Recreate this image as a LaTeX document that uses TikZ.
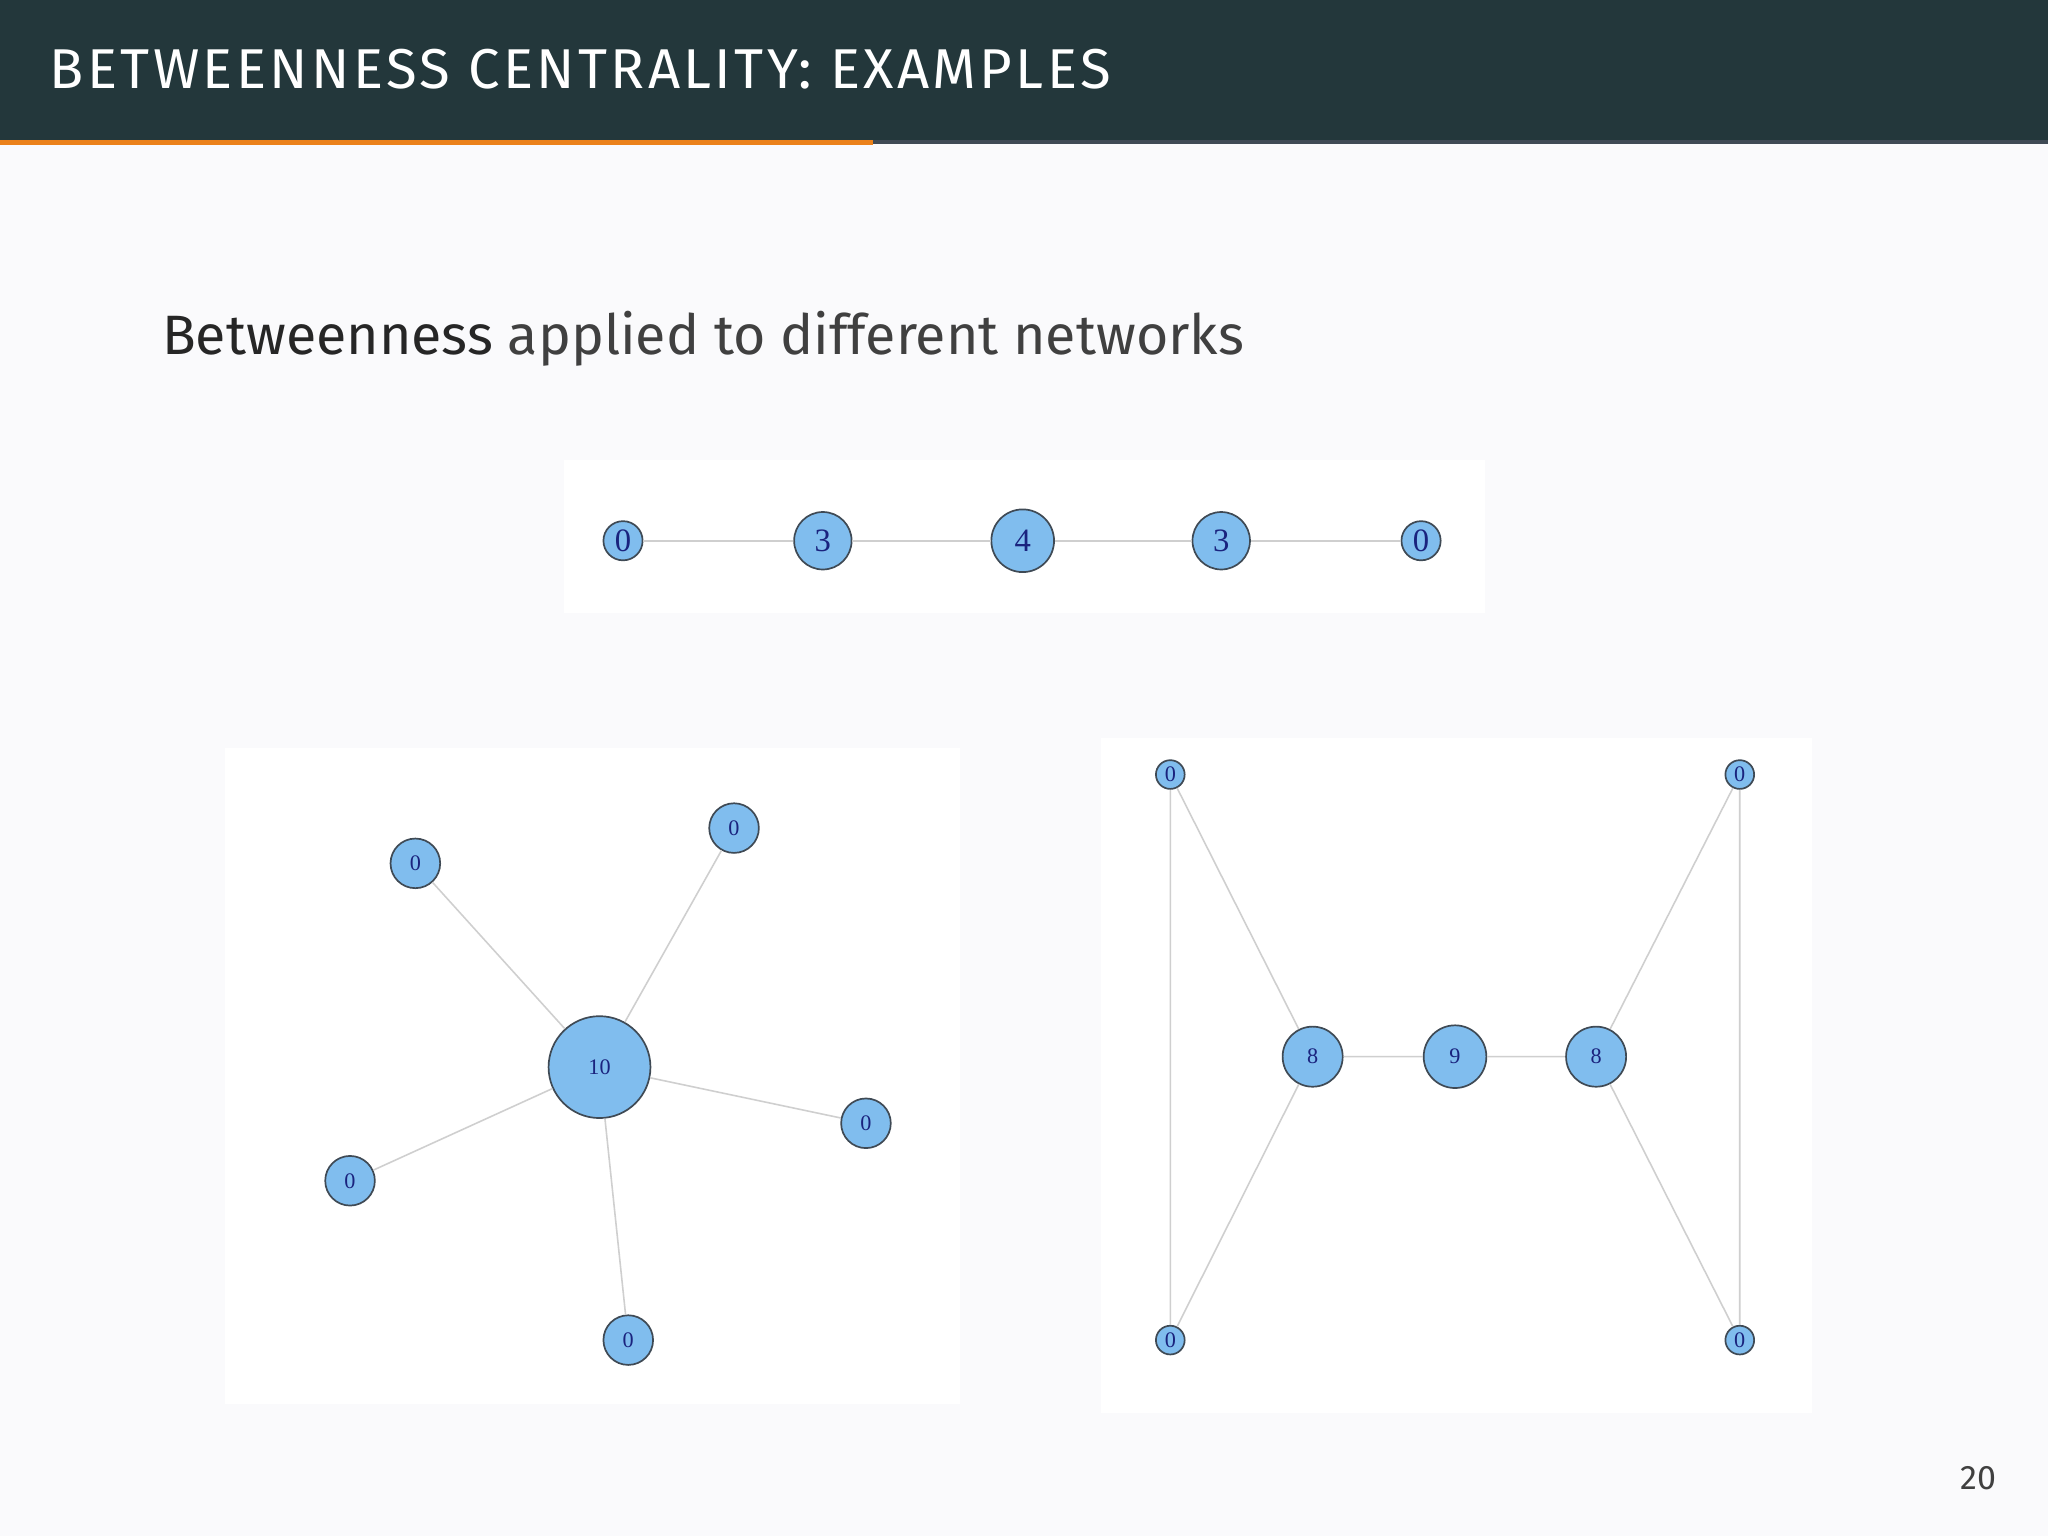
\documentclass[tikz,border=0pt]{standalone}
\usepackage{fontspec}
\setmainfont{Fira Sans}
\newfontfamily\nodefont{Liberation Serif}
\newfontfamily\titlefont[LetterSpace=6]{Fira Sans}
\definecolor{bar}{HTML}{23373B}
\definecolor{orng}{HTML}{EB811B}
\definecolor{bg}{HTML}{FAFAFC}
\definecolor{nfill}{HTML}{80BDEE}
\definecolor{nline}{HTML}{3F4A55}
\definecolor{nlab}{HTML}{1A237E}
\definecolor{edge}{HTML}{CFCFCF}
\tikzset{
 gnode/.style={circle,fill=nfill,draw=nline,line width=1.3pt,inner sep=0pt,minimum size=#1,text=nlab},
 gedge/.style={draw=edge,line width=1.2pt},
 panel/.style={fill=white,draw=none}
}
\begin{document}
\begin{tikzpicture}[x=1pt,y=-1pt]
\fill[bg] (0,0) rectangle (1568,1176);
\useasboundingbox (0,0) rectangle (1568,1176);
\fill[bar] (0,0) rectangle (1568,107);
\fill[orng] (0,107) rectangle (668,111);
\fill[nline] (668,107) rectangle (1568,110);
\node[anchor=west,text=white,inner sep=0pt,font=\titlefont\fontsize{43}{50}\selectfont] (title) at (38,53) {BETWEENNESS CENTRALITY: EXAMPLES};
\node[anchor=west,inner sep=0pt,font=\fontsize{42.5}{50}\selectfont,text=black!85] (sub) at (124,259) {Betweenness {\color{black!75}applied to different networks}};
\node[font=\fontsize{26}{30}\selectfont,text=black!75] (pg) at (1515,1132) {20};
\fill[panel] (432,352) rectangle (1137,469);
\fill[panel] (172,573) rectangle (735,1075);
\fill[panel] (843,565) rectangle (1387,1082);
\node[gnode=30pt,font=\nodefont\fontsize{25}{28}\selectfont] (p1) at (477,414) {0};
\node[gnode=44pt,font=\nodefont\fontsize{25}{28}\selectfont] (p2) at (630,414) {3};
\node[gnode=48pt,font=\nodefont\fontsize{25}{28}\selectfont] (p3) at (783,414) {4};
\node[gnode=44pt,font=\nodefont\fontsize{25}{28}\selectfont] (p4) at (935,414) {3};
\node[gnode=30pt,font=\nodefont\fontsize{25}{28}\selectfont] (p5) at (1088,414) {0};
\draw[gedge] (p1)--(p2) (p2)--(p3) (p3)--(p4) (p4)--(p5);
\node[gnode=78pt,font=\nodefont\fontsize{17}{20}\selectfont] (c) at (459,817) {10};
\node[gnode=38pt,font=\nodefont\fontsize{17}{20}\selectfont] (s1) at (318,661) {0};
\node[gnode=38pt,font=\nodefont\fontsize{17}{20}\selectfont] (s2) at (562,634) {0};
\node[gnode=38pt,font=\nodefont\fontsize{17}{20}\selectfont] (s3) at (663,860) {0};
\node[gnode=38pt,font=\nodefont\fontsize{17}{20}\selectfont] (s4) at (268,904) {0};
\node[gnode=38pt,font=\nodefont\fontsize{17}{20}\selectfont] (s5) at (481,1026) {0};
\draw[gedge] (c)--(s1) (c)--(s2) (c)--(s3) (c)--(s4) (c)--(s5);
\node[gnode=22pt,font=\nodefont\fontsize{17}{20}\selectfont] (tl) at (896,593) {0};
\node[gnode=22pt,font=\nodefont\fontsize{17}{20}\selectfont] (tr) at (1332,593) {0};
\node[gnode=22pt,font=\nodefont\fontsize{17}{20}\selectfont] (bl) at (896,1026) {0};
\node[gnode=22pt,font=\nodefont\fontsize{17}{20}\selectfont] (br) at (1332,1026) {0};
\node[gnode=46pt,font=\nodefont\fontsize{17}{20}\selectfont] (a) at (1005,809) {8};
\node[gnode=48pt,font=\nodefont\fontsize{17}{20}\selectfont] (m) at (1114,809) {9};
\node[gnode=46pt,font=\nodefont\fontsize{17}{20}\selectfont] (b) at (1222,809) {8};
\draw[gedge] (tl)--(a) (tl)--(bl) (a)--(bl) (a)--(m) (m)--(b) (b)--(tr) (b)--(br) (tr)--(br);
\end{tikzpicture}
\end{document}
